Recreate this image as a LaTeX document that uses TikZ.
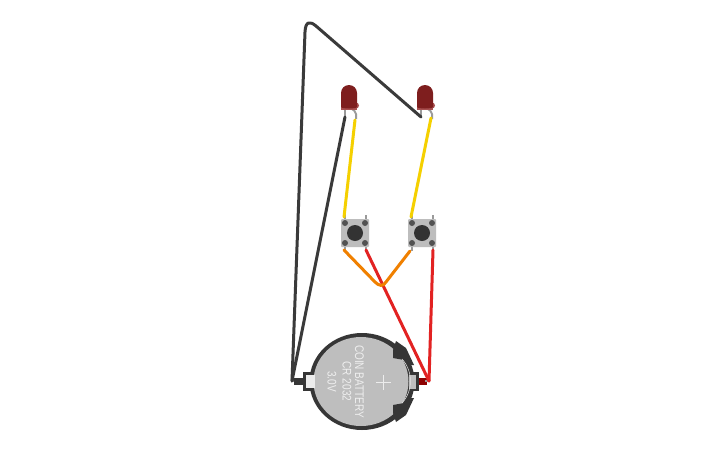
\documentclass[tikz,border=0pt]{standalone}
\usepackage{fontspec}
\setmainfont{Liberation Sans}
\newfontfamily\cellfont[FakeStretch=0.8]{Liberation Sans}
\definecolor{wblack}{HTML}{3A3A3A}
\definecolor{wyellow}{HTML}{F5D000}
\definecolor{wred}{HTML}{E22222}
\definecolor{worange}{HTML}{F08000}
\definecolor{ledred}{HTML}{7E1E1E}
\definecolor{ledrim}{HTML}{A85050}
\definecolor{leg}{HTML}{9A9A9A}
\definecolor{swbody}{HTML}{BDBDBD}
\definecolor{swdark}{HTML}{333333}
\definecolor{cell}{HTML}{BEBEBE}
\definecolor{holder}{HTML}{363636}
\tikzset{
 wire/.style={line width=3pt,line cap=round,line join=round},
 pinleg/.style={line width=2pt,draw=leg},
 celltext/.style={text=white!75!cell,font=\cellfont\fontsize{12.5}{12.5}\selectfont,rotate=-90,inner sep=0pt},
}
\newcommand{\ledpart}[2]{%
 \draw[pinleg] (#1-4,#2+20) -- (#1-4,#2+32);
 \draw[pinleg,rounded corners=2pt] (#1+3,#2+24) -- (#1+7,#2+27) -- (#1+7,#2+34);
 \fill[ledrim] (#1-8,#2+18) rectangle (#1+8,#2+25);
 \fill[ledrim] (#1+7,#2+20.5) circle (3);
 \fill[ledred] (#1-8,#2+22) -- (#1-8,#2+8) arc[start angle=180,end angle=360,radius=8] -- (#1+8,#2+22) arc[start angle=0,end angle=180,x radius=8,y radius=1.5];
}
\newcommand{\swpart}[2]{%
 \draw[leg,line width=2pt] (#1-10,#2-18) -- (#1-10,#2+18);
 \draw[leg,line width=2pt] (#1+11,#2-18) -- (#1+11,#2+18);
 \fill[swbody,rounded corners=1pt] (#1-14,#2-14) rectangle (#1+14,#2+14);
 \foreach \dx/\dy in {-10/-10,10/-10,-10/10,10/10}{\fill[swdark!85!white] (#1+\dx,#2+\dy) circle (3);}
 \fill[swdark] (#1,#2) circle (8);
}
\begin{document}
\begin{tikzpicture}[x=1pt,y=-1pt]
\useasboundingbox[fill=white] (0,0) rectangle (725,453);
% free wire ends
\coordinate (batL) at (292,381);
\coordinate (batR) at (429,381);
\coordinate (bendL) at (305,32);
\coordinate (bendT) at (316,26);
\coordinate (ledAneg) at (345,117);
\coordinate (ledApos) at (355,120);
\coordinate (ledBneg) at (421,117);
\coordinate (ledBpos) at (431,118);
\coordinate (swAtl) at (344,217);
\coordinate (swBtl) at (411,217);
\coordinate (swAbl) at (344,250);
\coordinate (swAbr) at (366,250);
\coordinate (swBbl) at (410,251);
\coordinate (swBbr) at (433,250);
\coordinate (orangeA) at (375,282);
\coordinate (orangeB) at (386,282);
% parts
\ledpart{349}{85}
\ledpart{425}{85}
\swpart{355}{233}
\swpart{422}{233}
% battery
\draw[leg,line width=2pt] (291,381) -- (296,381);
\fill[holder] (294,378) rectangle (304,385);
\fill[red!55!black] (417,378) rectangle (427,385);
\draw[leg,line width=2pt] (425,381) -- (430,381);
\fill[holder] (302.5,372) rectangle (319,391);
\fill[holder] (405,372) rectangle (419,391);
\fill[holder] (362,381.5) ellipse (52.5 and 48.5);
\fill[cell] (361,381.5) ellipse (47.5 and 44.5);
\fill[white!70!cell] (305.5,375) rectangle (315,388);
\fill[cell] (409,375) rectangle (416,389);
\fill[holder] (393,350) -- (393,358) -- (404,360) -- (409,365) -- (414,365) -- (406,348) -- (396,341) -- cycle;
\fill[holder] (393,413) -- (393,405) -- (404,403) -- (409,398) -- (414,398) -- (406,415) -- (396,422) -- cycle;
\draw[white!60!cell,line width=.5pt] (402,359) arc[start angle=-42,end angle=42,radius=33];
\node[celltext] (coin) at (359.5,381.5) {COIN BATTERY};
\node[celltext] (cr) at (347,381.5) {CR 2032};
\node[celltext] (volt) at (332,381.5) {3.0V};
\draw[white!70!cell,line width=.6pt] (376,382) -- (391,382) (383.5,374.5) -- (383.5,389.5);
% wires
\draw[wire,wblack] (batL) -- (bendL) .. controls (305.5,21) and (310,21) .. (bendT) -- (ledBneg);
\draw[wire,wblack] (batL) -- (ledAneg);
\draw[wire,wyellow] (ledApos) -- (swAtl);
\draw[wire,wyellow] (ledBpos) -- (swBtl);
\draw[wire,wred] (swAbr) -- (batR);
\draw[wire,wred] (swBbr) -- (batR);
\draw[wire,worange] (swAbl) -- (orangeA) .. controls (379,286) and (383,287) .. (orangeB) -- (swBbl);
\end{tikzpicture}
\end{document}
